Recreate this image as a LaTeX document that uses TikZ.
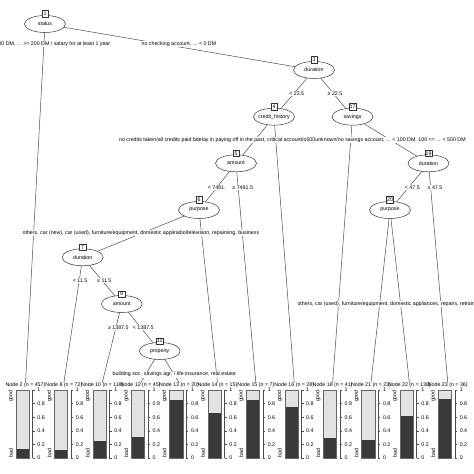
\documentclass[tikz,border=0pt]{standalone}
\usepackage{fontspec}
\setmainfont{Liberation Sans}
\usetikzlibrary{shapes.geometric}
\definecolor{barlight}{HTML}{E2E2E2}
\definecolor{bardark}{HTML}{3A3A3A}
\newcommand\zw[1]{\makebox[0pt]{#1}}
\pgfdeclarelayer{bg}
\pgfsetlayers{bg,main}
\begin{document}
\begin{tikzpicture}[x=1bp,y=-1bp,
  every node/.style={font=\fontsize{5.3}{6}\selectfont, inner sep=0pt},
  inner/.style={ellipse, draw=black!80, fill=white, line width=0.5bp, minimum width=41bp, minimum height=17bp},
  idbox/.style={draw=black!80, fill=white, line width=0.5bp, minimum width=6.5bp, minimum height=6.5bp, inner sep=0.7bp},
  edge/.style={draw=black!70, line width=0.5bp},
  elab/.style={fill=white, inner sep=0.6bp},
  tlab/.style={inner sep=0.3bp},
  barline/.style={draw=black!60, line width=0.4bp},
  axisline/.style={draw=black!70, line width=0.4bp}]
\useasboundingbox (0,0) rectangle (474,474);
\begin{pgfonlayer}{bg}
\fill[white] (0,0) rectangle (474,474);
\end{pgfonlayer}

% inner nodes
\node[inner] (n1) at (45,24) {\zw{status}};
\node[inner] (n3) at (314,70) {\zw{duration}};
\node[inner] (n4) at (274,116.7) {\zw{credit\_history}};
\node[inner] (n17) at (352.5,116.7) {\zw{savings}};
\node[inner] (n5) at (236,163.3) {\zw{amount}};
\node[inner] (n19) at (428.5,163.3) {\zw{duration}};
\node[inner] (n6) at (199,210) {\zw{purpose}};
\node[inner] (n20) at (390,210) {\zw{purpose}};
\node[inner] (n7) at (82.7,257.3) {\zw{duration}};
\node[inner] (n9) at (121.7,304) {\zw{amount}};
\node[inner] (n11) at (159.7,351) {\zw{property}};

% id boxes
\foreach \k in {1,3,4,17,5,19,6,20,7,9,11} {
  \node[idbox] (b\k) at ([yshift=10bp]n\k.center) {\k};
}

% terminal panels
\foreach \i/\id/\nn/\bad in {0/2/457/0.131, 1/8/72/0.125, 2/10/118/0.254, 3/12/45/0.311,
  4/13/20/0.85, 5/14/15/0.667, 6/15/7/0.857, 7/16/28/0.75, 8/18/41/0.293,
  9/21/23/0.262, 10/22/138/0.623, 11/23/36/0.861} {
  \pgfmathsetmacro\bL{16+38.39*\i}
  \pgfmathsetmacro\bR{\bL+13.3}
  \pgfmathsetmacro\cX{\bL+9.5}
  \pgfmathsetmacro\yS{458-68*\bad}
  \node[tlab] (t\id) at (\cX,385.6) {Node \id\ (n = \nn)};
  \fill[barlight] (\bL,390) rectangle (\bR,\yS);
  \fill[bardark] (\bL,\yS) rectangle (\bR,458);
  \draw[barline] (\bL,390) rectangle (\bR,458);
  \draw[axisline] ({\bR+3.3},390) -- ({\bR+3.3},458);
  \foreach \t/\lab in {0/0,0.2/0.2,0.4/0.4,0.6/0.6,0.8/0.8,1/1} {
    \draw[axisline] ({\bR+3.3},{458-68*\t}) -- ++(2.3,0);
    \node[anchor=west] at ({\bR+8},{458-68*\t}) {\lab};
  }
  \node[rotate=90,anchor=east] at ({\bL-5},390) {good};
  \node[rotate=90,anchor=west] at ({\bL-5},458) {bad};
}

% edges
\begin{pgfonlayer}{bg}
\draw[edge] (n1.center) -- (t2.north);
\draw[edge] (n1.center) -- (n3.center);
\draw[edge] (n3.center) -- (n4.center);
\draw[edge] (n3.center) -- (n17.center);
\draw[edge] (n4.center) -- (n5.center);
\draw[edge] (n4.center) -- (t16.north);
\draw[edge] (n5.center) -- (n6.center);
\draw[edge] (n5.center) -- (t15.north);
\draw[edge] (n6.center) -- (n7.center);
\draw[edge] (n6.center) -- (t14.north);
\draw[edge] (n7.center) -- (t8.north);
\draw[edge] (n7.center) -- (n9.center);
\draw[edge] (n9.center) -- (t10.north);
\draw[edge] (n9.center) -- (n11.center);
\draw[edge] (n11.center) -- (t12.north);
\draw[edge] (n11.center) -- (t13.north);
\draw[edge] (n17.center) -- (t18.north);
\draw[edge] (n17.center) -- (n19.center);
\draw[edge] (n19.center) -- (n20.center);
\draw[edge] (n19.center) -- (t23.north);
\draw[edge] (n20.center) -- (t21.north);
\draw[edge] (n20.center) -- (t22.north);
\end{pgfonlayer}

% edge labels
\node[elab,anchor=east] (l12) at (111,44.3) {00 DM, ... >= 200 DM / salary for at least 1 year};
\node[elab] (l13) at (178.9,44.3) {no checking account, ... < 0 DM};
\node[elab] (l34) at (296.7,93.3) {< 22.5};
\node[elab] (l317) at (335,93.3) {≥ 22.5};
\node[elab] (rowB) at (292.4,140) {no credits taken/all credits paid bdelay in paying off in the past, critical account/o500unknown/no savings account, ... < 100 DM, 100 <= ... < 500 DM};
\node[elab] (l56) at (216.7,187.3) {< 7491.};
\node[elab] (l515) at (242.7,187.3) {≥ 7491.5};
\node[elab] (l1920) at (412.3,187.3) {< 47.5};
\node[elab] (l1923) at (435,187.3) {≥ 47.5};
\node[elab] (rowC) at (140.9,233.3) {others, car (new), car (used), furniture/equipment, domestic appliradio/television, repairsing, business};
\node[elab] (l78) at (80,280.7) {< 11.5};
\node[elab] (l79) at (104.3,280.7) {≥ 11.5};
\node[elab,anchor=west] (rowD) at (296.7,304) {others, car (used), furniture/equipment, domestic appliances, repairs, retrain};
\node[elab] (l910) at (118.3,327.3) {≥ 1387.5};
\node[elab] (l911) at (143.3,327.3) {< 1387.5};
\node[elab] (rowE) at (174.2,374.6) {building soc. savings agr. / life insurance, real estate};
\end{tikzpicture}
\end{document}
